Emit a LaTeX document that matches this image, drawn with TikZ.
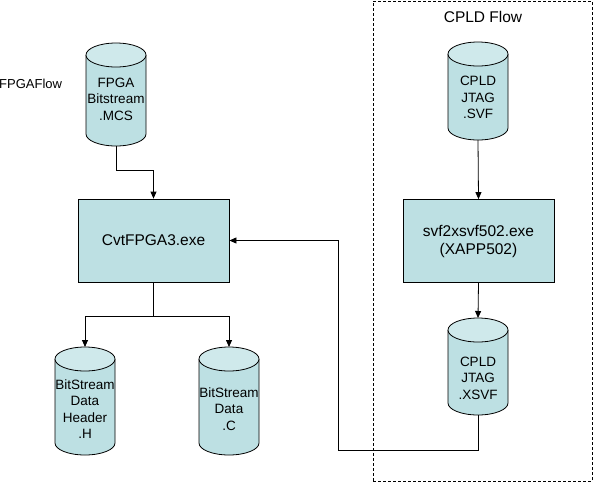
\documentclass[tikz,border=0pt]{standalone}
\usepackage{fontspec}
\setmainfont{Liberation Sans}
\usetikzlibrary{arrows.meta,calc}
\definecolor{tealbody}{HTML}{BDE0E3}
\definecolor{tealtop}{HTML}{CFE9EB}
\newcommand\mycyl[4]{% name, cx, top, bottom
  \fill[tealbody] ({#2-30},{#3+12}) -- ({#2-30},{#4-12})
     arc[start angle=180,end angle=360,x radius=30pt,y radius=12pt]
     -- ({#2+30},{#3+12}) -- cycle;
  \draw[line width=0.8pt] ({#2-30},{#3+12}) -- ({#2-30},{#4-12})
     arc[start angle=180,end angle=360,x radius=30pt,y radius=12pt]
     -- ({#2+30},{#3+12});
  \draw[line width=0.8pt,fill=tealtop] (#2,{#3+12}) ellipse[x radius=30pt,y radius=12pt];
  \node[cylshape] (#1) at (#2,{(#3+#4)/2}) [minimum height={(#4-#3)*1pt}] {};
}
\begin{document}
\begin{tikzpicture}[x=1pt,y=-1pt,
  cylshape/.style={draw=none,minimum width=60pt,inner sep=0pt,outer sep=0pt},
  cyltext/.style={align=center,font=\fontsize{13.5}{16.5}\selectfont,inner sep=0pt},
  procbox/.style={draw,line width=0.8pt,fill=tealbody,minimum width=151pt,minimum height=83pt,
     align=center,font=\fontsize{15.5}{18}\selectfont,inner sep=0pt},
  arr/.style={line width=0.8pt,-{Triangle[length=7pt,width=6pt]}},
  conn/.style={line width=0.8pt}]
\useasboundingbox (0,0) rectangle (594,483);
% CPLD frame
\node[draw,dashed,dash pattern=on 3pt off 2pt,line width=0.7pt,minimum width=219pt,minimum height=480pt,inner sep=0pt] (frame) at (482.5,241) {};
\node[font=\fontsize{15.5}{18}\selectfont,inner sep=0pt] (cpldlbl) at (483,17) {CPLD Flow};
\node[font=\fontsize{13}{16}\selectfont,anchor=west,inner sep=0pt] (fpgalbl) at (-1,84) {FPGAFlow};
% cylinders
\mycyl{fpga}{116}{43}{146}
\node[cyltext] (fpgat) at (116,99) {FPGA\\Bitstream\\.MCS};
\mycyl{hdr}{85}{347}{455}
\node[cyltext] (hdrt) at (85,409) {BitStream\\Data\\Header\\.H};
\mycyl{cdat}{229}{347}{455}
\node[cyltext] (cdatt) at (229,409) {BitStream\\Data\\.C};
\mycyl{svf}{478}{42}{140}
\node[cyltext] (svft) at (478,97.5) {CPLD\\JTAG\\.SVF};
\mycyl{xsvf}{478}{318}{415}
\node[cyltext] (xsvft) at (478,378) {CPLD\\JTAG\\.XSVF};
% boxes
\node[procbox] (cvt) at (153.5,240.5) {CvtFPGA3.exe};
\node[procbox] (xapp) at (478.5,241) {svf2xsvf502.exe\\(XAPP502)};
% connectors
\draw[arr] (fpga.south) -- ++(0,24) -| (cvt.north);
\coordinate (split) at (153.5,316);
\draw[conn] (cvt.south) -- (split);
\draw[arr] (split) -| (hdr.north);
\draw[arr] (split) -| (cdat.north);
\draw[arr] (svf.south) -- (xapp.north);
\draw[arr] (xapp.south) -- (xsvf.north);
\coordinate (ret) at (338,450);
\draw[arr] (xsvf.south) |- (ret) |- (cvt.east);
\end{tikzpicture}
\end{document}
